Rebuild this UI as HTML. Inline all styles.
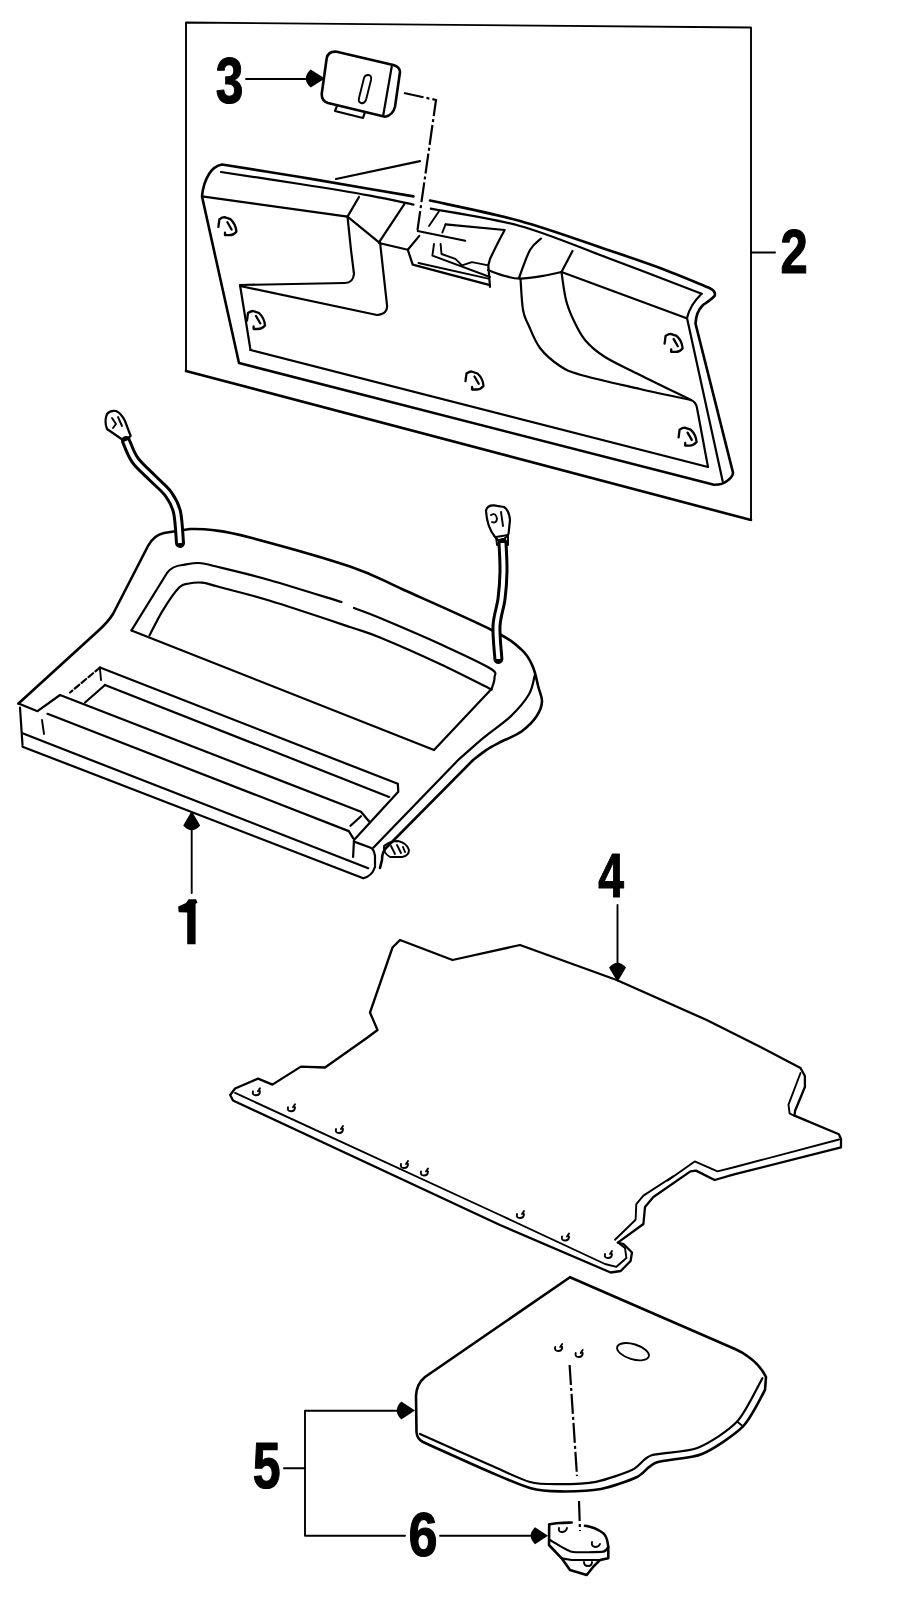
<!DOCTYPE html>
<html><head><meta charset="utf-8">
<style>
html,body{margin:0;padding:0;background:#fff;width:913px;height:1600px;overflow:hidden}
svg{display:block}
.l{fill:none;stroke:#000;stroke-width:2.6;stroke-linejoin:round;stroke-linecap:round}
.t{fill:none;stroke:#000;stroke-width:2.2;stroke-linejoin:round;stroke-linecap:round}
.f{fill:none;stroke:#000;stroke-width:1.9;stroke-linejoin:round;stroke-linecap:round}
.b{fill:none;stroke:#000;stroke-width:2.3;stroke-linejoin:round;stroke-linecap:round}
.d{fill:none;stroke:#000;stroke-width:2.2;stroke-dasharray:20 3 3 3}
.n{font-family:"Liberation Sans",sans-serif;font-weight:bold;font-size:60px;fill:#000;stroke:#000;stroke-width:1.2;stroke-linejoin:round}
</style></head><body>
<svg width="913" height="1600" viewBox="0 0 913 1600">
<path class="f" d="M186,371 L186,22.5 L751,27.5 L751,520"/>
<path class="l" d="M751,520 L186,371"/>
<path class="f" d="M751,252.5 L775,252.5"/>
<text class="n" style="font-size:62.4px" transform="translate(780.6,272.8) scale(0.785,1)">2</text>
<text class="n" style="font-size:64.4px" transform="translate(215.8,102.5) scale(0.771,1)">3</text>
<path class="f" d="M246,79 L310,79"/>
<path d="M0,0 L-14.4,-9 Q-24,0 -14.4,9 Z" fill="#000" transform="translate(325,78.5) rotate(0)"/>
<path class="l" d="M336.7,51.7 L393.3,65 Q400,67 400,72 L395,106.7 Q393,115 385,116.7 L328,103 Q321.7,101 321.7,94 L326.7,58.3 Q328,51 336.7,51.7 Z"/>
<path class="t" d="M391.7,66.7 L383.3,115"/>
<path class="f" d="M368,75 Q372,75 371,80 L366,100 Q364,104 361,103 Q358,102 359,98 L364,78 Q365,75 368,75 Z"/>
<path class="t" d="M336.7,106.7 L335,111 L363,118 L365,112"/>
<path class="d" d="M404,93 L436,100 L417.5,230"/>
<path class="l" d="M413.5,196.4 C406.2,195.2 388.9,192.2 370,189 C351.1,185.8 324.7,181.1 300,177 C275.3,172.9 235,166.6 222,164.5 Q214,166 209,174 Q203,184 202,196.4 L239,363 L714,484.8 Q722,485 727,481 Q733,477 733,472.6 L695.5,323.6 Q696,312 703,305 Q712,299 714.8,295.6 Q716,291 709,287.7  C700.8,284.4 676.8,274.3 660,268 C643.2,261.7 631.3,257.8 608,250 C584.7,242.2 549.7,229.2 520,221 C490.3,212.8 445,203.9 430,200.5"/>
<path class="t" d="M221,172 C234.2,174 275.2,180.1 300,184 C324.8,187.9 351.1,192.2 370,195.6 C388.9,199 406.2,203.1 413.5,204.6"/>
<path class="t" d="M430.8,208.7 C445.7,211.6 490.5,217.8 520,226 C549.5,234.2 577.7,246.7 608,258 C638.3,269.3 686,287.8 701.6,293.8"/>
<path class="t" d="M701.6,293.8 Q690,305 687,318 L722.7,481.3"/>
<path class="t" d="M202,196.4 L347.5,216.6"/>
<path class="t" d="M336,179 L420,161.2"/>
<path class="t" d="M347.5,216.6 L351,250 L354,274 Q353,283 345,283 L240,285 L250.5,350"/>
<path class="t" d="M240,286 L377,315 Q388,314 387,305 L380,242"/>
<path class="t" d="M347.5,216.6 L379,242.4 L404.5,203.8"/>
<path class="t" d="M347.5,216.6 L359,197"/>
<path class="t" d="M379,243 L407.8,249.8 L419.3,235.9"/>
<path class="t" d="M407.8,249.8 L412.7,264.6 L489.9,285.1"/>
<path class="f" d="M417.6,231 L465.3,240.8"/>
<path class="f" d="M429,226 L439,211.2"/>
<path class="t" d="M445.6,224.4 L504.7,230 Q498,242 490,259 L488.3,265.4 L490,286.8"/>
<path class="f" d="M445.6,224.4 L442.3,232.6"/>
<path class="f" d="M434,244 L432.4,255.6 L490,277"/>
<path class="f" d="M440.6,244 L441.5,254 L455.4,258.9 L462,265.4 L471.9,262.1 L488.3,265.4"/>
<path class="f" d="M418.5,263 L488.3,278.6"/>
<path class="t" d="M488,270 C490.8,271 499.6,274.6 505,276 C510.4,277.4 513.8,278.7 520.5,278.6 C527.2,278.5 538.2,276.6 545,275.5 C551.8,274.4 558.8,272.6 561.5,272"/>
<path class="t" d="M541,238.6 C539.2,240.5 533.7,243.4 530,250 C526.3,256.6 520.8,273.3 519,278"/>
<path class="t" d="M572.5,251 L561.5,272"/>
<path class="t" d="M520.5,278.6 C520.9,283.8 521.7,302.3 523,310 C524.3,317.7 525.7,318.7 528.5,325 C531.3,331.3 534.8,341.2 540,348 C545.2,354.8 553.2,361.5 560,366 C566.8,370.5 567.7,371.2 581,375 C594.3,378.8 621.7,384.8 640,389 C658.3,393.2 682.5,398.2 691,400"/>
<path class="t" d="M561.5,272 C562.2,276.7 564,292 566,300 C568,308 570.3,313.3 573.5,320 C576.7,326.7 579.8,333.8 585,340 C590.2,346.2 595.8,351.2 605,357 C614.2,362.8 625.7,367.8 640,375 C654.3,382.2 682.5,395.8 691,400"/>
<path class="t" d="M561.5,272 L686,318"/>
<path class="t" d="M691,400 Q696,402 697,408 L708,467"/>
<path class="t" d="M250.5,350 L708,467"/>
<path class="b" d="M218.4,226.9 l1,-7.7 q3,-2 5,-2 l6,2 q5.5,5 6,12.5 q-3,3.5 -7,3.5 l-4.4,0 l0,-2.6 M227.4,222.2 l4.2,7.3"/>
<path class="b" d="M247,320.7 l1,-7.7 q3,-2 5,-2 l6,2 q5.5,5 6,12.5 q-3,3.5 -7,3.5 l-4.4,0 l0,-2.6 M256,316 l4.2,7.3"/>
<path class="b" d="M465.5,381.2 l1,-7.7 q3,-2 5,-2 l6,2 q5.5,5 6,12.5 q-3,3.5 -7,3.5 l-4.4,0 l0,-2.6 M474.5,376.5 l4.2,7.3"/>
<path class="b" d="M664.6,343.6 l1,-7.7 q3,-2 5,-2 l6,2 q5.5,5 6,12.5 q-3,3.5 -7,3.5 l-4.4,0 l0,-2.6 M673.6,338.9 l4.2,7.3"/>
<path class="b" d="M678.6,437.3 l1,-7.7 q3,-2 5,-2 l6,2 q5.5,5 6,12.5 q-3,3.5 -7,3.5 l-4.4,0 l0,-2.6 M687.6,432.6 l4.2,7.3"/>
<path class="l" d="M18.5,703.5 L98.6,630.5 Q108,622 113,614 L148,546 Q154,535 164,533 L190,529  C193.7,529.2 202,528.6 212,530 C222,531.4 227,531.4 250,537.5 C273,543.6 324.3,557.8 350,566.5 C375.7,575.2 380.4,579.4 404,590 C427.6,600.6 472.1,620.1 491.7,630 C511.3,639.9 514.7,643.5 521.5,649.6 C528.3,655.7 529.9,660.2 532.7,666.4 C535.5,672.6 536.8,680.9 538.3,686.8 C539.8,692.7 542.3,696.7 542,701.7 C541.7,706.7 539.8,711.6 536.4,716.6 C533,721.6 527.7,727.1 521.5,731.5 C515.3,735.9 505.1,739.6 499.2,742.7 C493.3,745.8 490.5,747.2 486.1,750.1 C481.8,753 475.3,758.4 473.1,760 L386,848 Q382,852 382,860 L380,868"/>
<path class="t" d="M107,414 Q110,410 116,411 Q121,413 125,421 L130.7,436 Q127,440 121.5,439 L107,429 Q104,421 107,414 Z"/>
<path class="f" d="M112,418 L116,424 L113,428 M118,417 L122,426"/>
<path d="M126,441 C127.5,444.2 130.6,453.8 135,460 C139.4,466.2 146.9,472.3 152.5,478 C158.1,483.7 164.5,488.6 168.6,494.3 C172.7,500 175.1,503.9 177,512 C178.9,520.1 179.5,537.8 180,543" stroke="#000" stroke-width="10" fill="none" stroke-linecap="round"/>
<path d="M126,441 C127.5,444.2 130.6,453.8 135,460 C139.4,466.2 146.9,472.3 152.5,478 C158.1,483.7 164.5,488.6 168.6,494.3 C172.7,500 175.1,503.9 177,512 C178.9,520.1 179.5,537.8 180,543" stroke="#fff" stroke-width="4" fill="none" stroke-linecap="butt"/>
<path class="t" d="M486,511 Q487,505 494,505.4 L504,507 Q509,510 510,520 L508.5,534 Q505,540 499,541 L495,537 Q487,527 486,511 Z"/>
<path class="f" d="M496,537 L508,535 L508,545 L497,545 Z"/>
<path class="f" d="M491,515 Q496,512 497,519 Q496,524 492,522 M501,512 L503,526"/>
<path d="M502.5,543 C502.7,547.8 503.7,562.2 503.5,571.5 C503.3,580.8 502.7,589.9 501.5,599 C500.3,608.1 497,616 496.5,626 C496,636 498.1,653.5 498.4,659" stroke="#000" stroke-width="10" fill="none" stroke-linecap="round"/>
<path d="M502.5,543 C502.7,547.8 503.7,562.2 503.5,571.5 C503.3,580.8 502.7,589.9 501.5,599 C500.3,608.1 497,616 496.5,626 C496,636 498.1,653.5 498.4,659" stroke="#fff" stroke-width="4" fill="none" stroke-linecap="butt"/>
<path class="t" d="M131.5,630.4 L167,573 Q172,566 182.4,565  C185.2,564.7 193.4,562.8 198.9,563 C204.4,563.2 203.5,563.4 215.3,566.3 C227.2,569.2 249,574.2 270,580.2 C291,586.2 329.6,598.4 341.5,602"/>
<path class="t" d="M354,608 C358.3,609.7 365.7,612 380,618 C394.3,624 421.7,635.6 440,644 C458.3,652.4 480.8,662.6 489.9,668.2 C499,673.8 494.2,674.1 494.5,677.5 C494.8,680.9 492.2,686.8 491.7,688.7 L434,750"/>
<path class="t" d="M149.6,635.3 C151.8,631.2 157.8,618.5 162.7,610.6 C167.6,602.7 174.7,592.1 179.1,587.6 C183.5,583.1 185.2,584.3 189,583.5 C192.8,582.7 197.2,582.2 202.1,582.7 C207,583.2 207.3,583.8 218.6,586.8 C229.9,589.8 248.1,594.1 270,600.8 C291.9,607.5 331.7,620.9 350,627 C368.3,633.1 365,631.3 380,637.5 C395,643.7 421.4,655.3 440,664 C458.6,672.7 483.1,685.3 491.7,689.6"/>
<path class="t" d="M131.5,630.4 L434,750.1"/>
<path class="t" d="M534.6,675.7 C533.7,678.8 533,687.5 529,694.3 C525,701.1 517.9,709.5 510.4,716.6 C502.9,723.7 493,729.9 484.3,737.1 C475.6,744.3 462.6,756.2 458.2,760 L373.3,847.7"/>
<path class="t" d="M18.5,703.5 L37.5,711.2 L60,695 L361,811.8 L369.8,822.3"/>
<path class="t" d="M350.5,825.8 L361,816.2"/>
<path class="t" d="M47.5,713.8 L348.8,831.1 L353.1,838.1"/>
<path class="t" d="M100,667.5 L397.8,783.8 L398.3,791.7 L354,839.9 L353.1,857"/>
<path class="t" d="M100,667.5 L70,692.5" stroke-dasharray="6 3"/>
<path class="t" d="M105,685 L389.1,796.9"/>
<path class="t" d="M105,685 L85,702.5"/>
<path class="f" d="M100,669 L101,680"/>
<path class="t" d="M20,707.5 L22.5,745"/>
<path class="t" d="M22.5,733.3 L368.2,868.2"/>
<path class="t" d="M22.5,746.7 L363.3,878.3 Q372,876 375,867 L375,856 Q374,849 370.7,847.7 L354,841.6"/>
<path class="f" d="M42,720 L44,734"/>
<path class="f" d="M384,846 Q390,841 398,841 Q407,843 409,850 Q409,856 402,857 L390,857 Q383,853 384,846 Z"/>
<path class="f" d="M391,846 L395,854 M397,845 L401,853 M403,847 L405,852"/>
<path class="f" d="M191.7,828 L191.7,893"/>
<path d="M0,0 L-14.4,-8.5 Q-24,0 -14.4,8.5 Z" fill="#000" transform="translate(191.7,811) rotate(-90)"/>
<path d="M188.5,899.3 L196,899.3 L197.5,902.6 L195.6,904 L195.6,944.2 L187.2,944.2 L187.2,912.5 L178.7,912.3 L178.1,906.4 L186,903 Z" fill="#000"/>
<text class="n" style="font-size:63.8px" transform="translate(598.2,897) scale(0.725,1)">4</text>
<path class="f" d="M617.5,905 L617.5,965"/>
<path d="M0,0 L-14.4,-8.5 Q-24,0 -14.4,8.5 Z" fill="#000" transform="translate(617.5,982) rotate(90)"/>
<path class="b" d="M230.2,1095 L235.1,1088.5 L258.1,1078.6 L272.4,1084.6 L300.9,1066.6 L325,1067.5 L367.5,1037.5 L377.5,1030 L370,1012.5 L392.5,947.5 L400,940 L452.5,960 L520,945 L616.7,980 L706.7,1020 L760,1046.7 L800.5,1068 L804.9,1076 L804.9,1087 L795,1111 L794.5,1115.6 L838.9,1134.2 L841,1139 L841,1147.3 L735,1174.2 L714.6,1180 L696,1170.6 L690.4,1171.4 L653.4,1197 L645,1207 L643.4,1224 L617.8,1242.6 L623.5,1244 L632,1252.5 L630.6,1261 L620.7,1271 L610.7,1272.5 L500,1225 L233,1100.5 Z"/>
<path class="f" d="M800.5,1073 L788.5,1104.6 L789.6,1113.4 L794.5,1116"/>
<path class="f" d="M839,1139.5 L735,1167 L717.5,1171.4 L694.7,1161.4 L667.7,1180.6"/>
<path class="f" d="M673.3,1176.3 L643.4,1195.6 L636.3,1204.1 L635.6,1219.8 L615,1239.7"/>
<path class="f" d="M235.1,1092.9 L500,1215 L605,1264 L616.4,1266.8 L626.4,1258 L625,1248 L617.8,1242.6"/>
<path class="f" d="M253,1091.3 q-1,4 3,4 q4,0 4,-4 M258,1091.3 l2,-3"/>
<path class="f" d="M288,1107.2 q-1,4 3,4 q4,0 4,-4 M293,1107.2 l2,-3"/>
<path class="f" d="M336,1129 q-1,4 3,4 q4,0 4,-4 M341,1129 l2,-3"/>
<path class="f" d="M401,1164 q-1,4 3,4 q4,0 4,-4 M406,1164 l2,-3"/>
<path class="f" d="M421,1171.5 q-1,4 3,4 q4,0 4,-4 M426,1171.5 l2,-3"/>
<path class="f" d="M517,1214 q-1,4 3,4 q4,0 4,-4 M522,1214 l2,-3"/>
<path class="f" d="M562,1236.5 q-1,4 3,4 q4,0 4,-4 M567,1236.5 l2,-3"/>
<path class="f" d="M605,1254 q-1,4 3,4 q4,0 4,-4 M610,1254 l2,-3"/>
<path class="l" d="M570,1277.2 L425,1377 Q416.5,1384 416,1396 L416.5,1432 Q417,1439 423,1442  C431.9,1446 475.7,1465.9 490,1472 C504.3,1478.1 520.7,1485.4 530,1488 C539.3,1490.6 550.5,1491.3 560,1491.4 C569.5,1491.5 590.7,1490.9 601,1489 C611.3,1487.1 629.6,1480.5 637,1477 C644.4,1473.5 647.7,1465.6 656.4,1462.5 C665.1,1459.4 690.5,1458.8 702,1454 C713.5,1449.2 734.6,1434.9 743,1426.4 C751.4,1417.9 762.1,1394.9 765,1390 L766,1377 Q760,1365 748,1356.5 Q742,1352 735,1349 L570,1277.2"/>
<path class="t" d="M420,1434  C429.3,1438.1 475.3,1458.6 490,1465 C504.7,1471.4 520.7,1479.4 530,1482 C539.3,1484.6 551.2,1484.2 560,1484.2 C568.8,1484.2 586.4,1483.7 596,1481.8 C605.6,1479.9 624.9,1473.3 632.3,1469.8 C639.7,1466.3 642.9,1458.2 651.6,1455.3 C660.3,1452.4 685.9,1452.5 697.3,1448 C708.7,1443.5 728.4,1430.9 737.1,1421.6 C745.8,1412.3 759,1384 762.4,1378.2"/>
<path class="f" d="M737.1,1421.6 L743.1,1426.4"/>
<path class="f" d="M555.2,1347 q-1,4 3,4 q4,0 4,-4 M560.2,1347 l2,-3"/>
<path class="f" d="M575.7,1353 q-1,4 3,4 q4,0 4,-4 M580.7,1353 l2,-3"/>
<ellipse class="f" cx="633" cy="1351.7" rx="16.5" ry="7.5" transform="rotate(17 633 1351.7)"/>
<path class="d" d="M569.6,1365 L577,1476 M579,1501 L580,1531"/>
<text class="n" style="font-size:64.4px" transform="translate(252.8,1488.3) scale(0.778,1)">5</text>
<path class="f" d="M284,1468.2 L305,1468.2"/>
<path class="f" d="M400,1410.8 L305,1410.8 L305,1535.8 L405,1535.8"/>
<path d="M0,0 L-13.7,-9 Q-22.8,0 -13.7,9 Z" fill="#000" transform="translate(415,1410.5) rotate(0)"/>
<text class="n" style="font-size:63.5px" transform="translate(408.5,1555.8) scale(0.822,1)">6</text>
<path class="f" d="M440,1535.8 L535,1535.8"/>
<path d="M0,0 L-13,-8.5 Q-21.6,0 -13,8.5 Z" fill="#000" transform="translate(548,1535.8) rotate(0)"/>
<path class="l" d="M571.7,1522.5 C569.8,1522.6 563.8,1522.7 560,1523 C556.2,1523.3 551,1524 549.2,1524.2 L549,1545 L561.7,1558.3 L570,1570 L586.7,1575 L593.3,1566.7 L600,1560 L608.3,1558.3 L608.3,1546.7 Q607,1536 603.3,1533.3 Q595,1527 585,1525.8"/>
<path class="t" d="M550,1540 C551.8,1541 567.3,1550.7 571.7,1551.7 C576.1,1552.7 600.2,1552.1 603.3,1551.7 C606.3,1551.3 607.9,1547.1 608.3,1546.7"/>
<path class="t" d="M561.7,1558.3 L571.7,1560 L600,1560"/>
<path class="f" d="M559,1528 q-1,4 3,4 q4,0 5,-4 M592,1542 q-1,4 3,5 q4,0 5,-3 M584,1562 q0,4 4,4 q4,0 4,-4"/>
</svg>
</body></html>
